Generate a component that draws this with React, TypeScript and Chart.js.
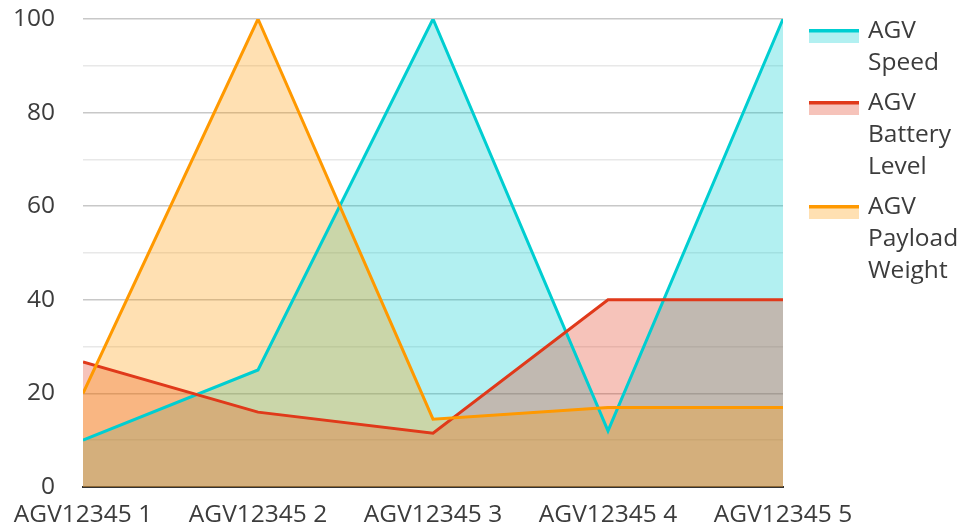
import React, { useEffect, useRef } from "react";
import { Chart, registerables } from "chart.js";

Chart.register(...registerables);

const categories = ["AGV12345 1", "AGV12345 2", "AGV12345 3", "AGV12345 4", "AGV12345 5"];
const speedValues = [10, 25, 100, 12, 100];
const batteryValues = [26.7, 16, 11.5, 40, 40];
const payloadValues = [20, 100, 14.5, 17, 17];
const seriesNames = [["AGV", "Speed"], ["AGV", "Battery", "Level"], ["AGV", "Payload", "Weight"]];
const yTicks = [0, 20, 40, 60, 80, 100];

const COLORS = [
  { line: "#00CED1", fill: "rgba(0,206,209,0.3)" },
  { line: "#E0391A", fill: "rgba(224,57,26,0.3)" },
  { line: "#FF9900", fill: "rgba(255,153,0,0.3)" },
];

const FONT = "'Open Sans', 'Noto Sans', sans-serif";
const FONT_SIZE = 24.5;
const TEXT_COLOR = "#3c3c3c";

const legendPlugin = {
  id: "wrapLegend",
  afterDraw(chart: any) {
    const ctx = chart.ctx;
    const area = chart.chartArea;
    const x0 = area.right + 26;
    let y = area.top + 12;
    const lineH = 32;
    ctx.save();
    ctx.font = `${FONT_SIZE}px ${FONT}`;
    ctx.textBaseline = "middle";
    ctx.textAlign = "left";
    seriesNames.forEach((lines, i) => {
      ctx.fillStyle = COLORS[i].fill;
      ctx.fillRect(x0, y - 2, 50, 14);
      ctx.fillStyle = COLORS[i].line;
      ctx.fillRect(x0, y - 2, 50, 3.5);
      ctx.fillStyle = TEXT_COLOR;
      lines.forEach((t, j) => {
        ctx.fillText(t, x0 + 59, y + j * lineH);
      });
      y += lines.length * lineH + 8;
    });
    ctx.restore();
  },
};

export default function App() {
  const ref = useRef<HTMLCanvasElement | null>(null);
  useEffect(() => {
    document.body.style.margin = "0";
    const canvas = ref.current!;
    const mk = (label: string, data: number[], i: number, order: number) => ({
      label,
      data,
      order,
      borderColor: COLORS[i].line,
      backgroundColor: COLORS[i].fill,
      borderWidth: 3,
      fill: "origin",
      tension: 0,
      pointRadius: 0,
      pointHoverRadius: 0,
      clip: 0,
    });
    const chart = new Chart(canvas, {
      type: "line",
      data: {
        labels: categories,
        datasets: [
          mk(seriesNames[0].join(" "), speedValues, 0, 2),
          mk(seriesNames[1].join(" "), batteryValues, 1, 1),
          mk(seriesNames[2].join(" "), payloadValues, 2, 0),
        ],
      },
      options: {
        animation: false,
        responsive: false,
        layout: { padding: { left: 15, right: 180, top: 19, bottom: 0 } },
        plugins: {
          legend: { display: false },
          tooltip: { enabled: false },
          filler: { drawTime: "beforeDatasetsDraw" },
        },
        scales: {
          x: {
            offset: false,
            grid: { display: false, drawTicks: false },
            border: { display: true, color: "#333333", width: 2 },
            ticks: {
              color: TEXT_COLOR,
              font: { family: FONT, size: FONT_SIZE },
              padding: 13,
              maxRotation: 0,
              autoSkip: false,
            },
            afterFit: (s: any) => {
              s.height = 41;
              s.paddingLeft = 0;
              s.paddingRight = 0;
            },
          },
          y: {
            min: 0,
            max: 100,
            grid: {
              drawTicks: false,
              color: (c: any) => (c.tick && c.tick.value % 20 === 0 ? "#c8c8c8" : "#e8e8e8"),
              lineWidth: 1.5,
            },
            border: { display: false },
            ticks: {
              stepSize: 10,
              color: TEXT_COLOR,
              font: { family: FONT, size: FONT_SIZE },
              padding: 28,
              callback: (v: any) => (yTicks.includes(Number(v)) ? String(v) : ""),
            },
            afterFit: (s: any) => {
              s.width = 68;
              s.paddingTop = 0;
              s.paddingBottom = 0;
            },
          },
        },
      },
      plugins: [legendPlugin],
    });
    return () => chart.destroy();
  }, []);
  return <canvas ref={ref} width={963} height={528} style={{ display: "block" }} />;
}
